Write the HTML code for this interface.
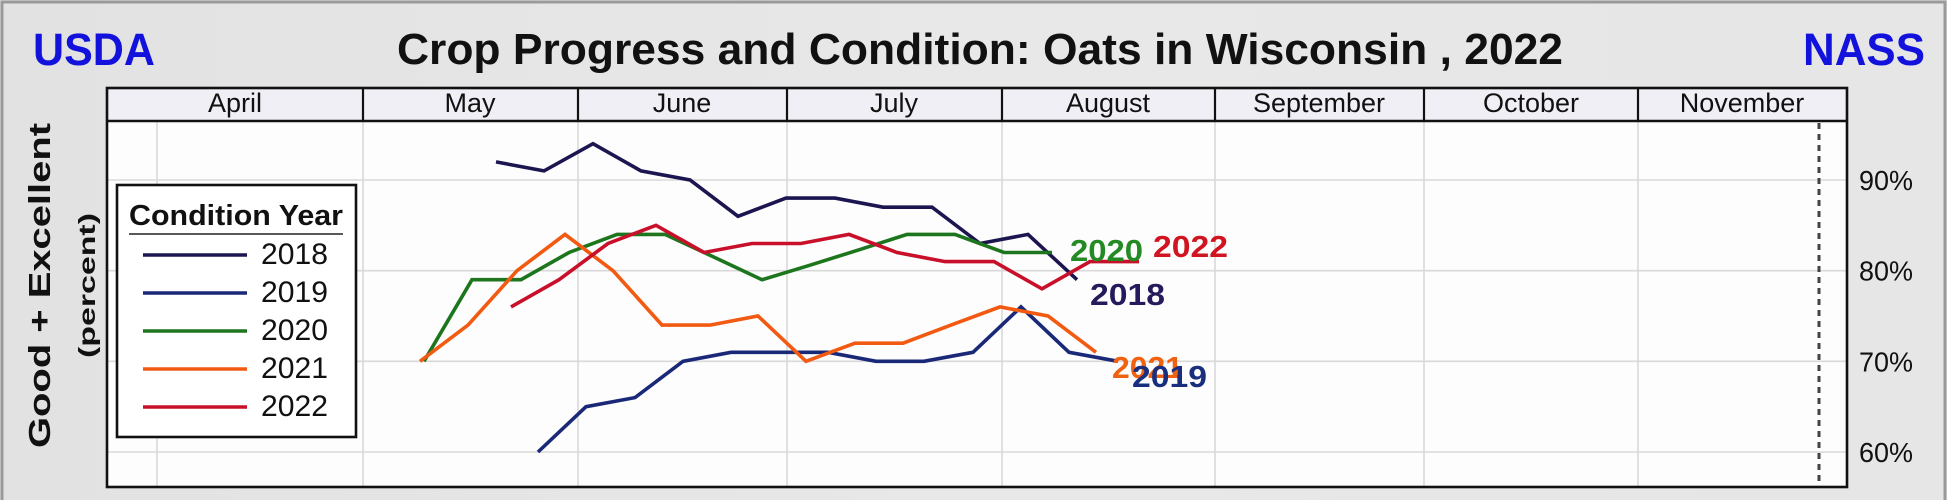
<!DOCTYPE html>
<html>
<head>
<meta charset="utf-8">
<style>
  html,body{margin:0;padding:0;background:#e5e5e5;}
  svg{display:block;}
  text{font-family:"Liberation Sans",Arial,sans-serif;}
</style>
</head>
<body>
<svg width="1947" height="500" viewBox="0 0 1947 500" xmlns="http://www.w3.org/2000/svg">
  <defs>
    <linearGradient id="bg" x1="0" y1="0" x2="1" y2="0">
      <stop offset="0" stop-color="#e2e2e2"/>
      <stop offset="0.5" stop-color="#e8e8e8"/>
      <stop offset="1" stop-color="#e6e6e6"/>
    </linearGradient>
  </defs>
  <rect x="0" y="0" width="1947" height="500" fill="url(#bg)"/>
  <!-- outer border -->
  <path d="M2,500 L2,2 L1945,2 L1945,500" fill="none" stroke="#9a9a9a" stroke-width="3"/>

  <!-- Top texts -->
  <text x="33" y="65" font-size="45" font-weight="bold" fill="#1212dc" textLength="122" lengthAdjust="spacingAndGlyphs">USDA</text>
  <text x="1803" y="65" font-size="45" font-weight="bold" fill="#1212dc" textLength="122" lengthAdjust="spacingAndGlyphs">NASS</text>
  <text x="980" y="64" font-size="44" font-weight="bold" fill="#111" text-anchor="middle" textLength="1166" lengthAdjust="spacingAndGlyphs">Crop Progress and Condition: Oats in Wisconsin , 2022</text>

  <!-- Y-axis titles -->
  <text transform="translate(50,285.5) rotate(-90)" font-size="31" font-weight="bold" fill="#111" text-anchor="middle" textLength="325" lengthAdjust="spacingAndGlyphs">Good + Excellent</text>
  <text transform="translate(95,285.5) rotate(-90)" font-size="23" font-weight="bold" fill="#111" text-anchor="middle" textLength="145" lengthAdjust="spacingAndGlyphs">(percent)</text>

  <!-- Header row -->
  <rect x="107" y="88" width="1740" height="33" fill="#efeff5"/>
  <!-- Plot area -->
  <rect x="107" y="121" width="1740" height="366" fill="#fdfdfd"/>

  <!-- grid -->
  <g stroke="#d9d9d9" stroke-width="1.6">
    <line x1="157" y1="121" x2="157" y2="487"/>
    <line x1="363" y1="121" x2="363" y2="487"/>
    <line x1="578" y1="121" x2="578" y2="487"/>
    <line x1="787" y1="121" x2="787" y2="487"/>
    <line x1="1002" y1="121" x2="1002" y2="487"/>
    <line x1="1215" y1="121" x2="1215" y2="487"/>
    <line x1="1424" y1="121" x2="1424" y2="487"/>
    <line x1="1638" y1="121" x2="1638" y2="487"/>
    <line x1="107" y1="180" x2="1847" y2="180"/>
    <line x1="107" y1="270.7" x2="1847" y2="270.7"/>
    <line x1="107" y1="361.3" x2="1847" y2="361.3"/>
    <line x1="107" y1="452" x2="1847" y2="452"/>
  </g>

  <!-- dashed end-of-season line -->
  <line x1="1819" y1="123" x2="1819" y2="487" stroke="#444" stroke-width="3" stroke-dasharray="6 5"/>

  <!-- header dividers and labels -->
  <g stroke="#111" stroke-width="2.2">
    <line x1="363" y1="88" x2="363" y2="121"/>
    <line x1="578" y1="88" x2="578" y2="121"/>
    <line x1="787" y1="88" x2="787" y2="121"/>
    <line x1="1002" y1="88" x2="1002" y2="121"/>
    <line x1="1215" y1="88" x2="1215" y2="121"/>
    <line x1="1424" y1="88" x2="1424" y2="121"/>
    <line x1="1638" y1="88" x2="1638" y2="121"/>
  </g>
  <g font-size="27" fill="#111" text-anchor="middle">
    <text x="235" y="112">April</text>
    <text x="470" y="112">May</text>
    <text x="682" y="112">June</text>
    <text x="894" y="112">July</text>
    <text x="1108" y="112">August</text>
    <text x="1319" y="112">September</text>
    <text x="1531" y="112">October</text>
    <text x="1742" y="112">November</text>
  </g>

  <!-- frame -->
  <rect x="107" y="88" width="1740" height="399" fill="none" stroke="#111" stroke-width="2.6"/>
  <line x1="107" y1="121" x2="1847" y2="121" stroke="#111" stroke-width="2.6"/>

  <!-- y tick labels -->
  <g font-size="28" fill="#111">
    <text x="1859" y="190" textLength="54" lengthAdjust="spacingAndGlyphs">90%</text>
    <text x="1859" y="280.7" textLength="54" lengthAdjust="spacingAndGlyphs">80%</text>
    <text x="1859" y="371.3" textLength="54" lengthAdjust="spacingAndGlyphs">70%</text>
    <text x="1859" y="462" textLength="54" lengthAdjust="spacingAndGlyphs">60%</text>
  </g>

  <!-- series -->
  <g fill="none" stroke-width="3.6" stroke-linejoin="miter" stroke-linecap="butt">
    <polyline stroke="#1c1650" points="496,161.9 544,170.9 593,143.7 641,170.9 690,180 738,216.3 786,198.1 835,198.1 883,207.2 932,207.2 980,243.5 1028,234.4 1077,279.7"/>
    <polyline stroke="#1a2878" points="538,452 586,406.7 635,397.6 683,361.3 731,352.3 780,352.3 828,352.3 876,361.3 924,361.3 973,352.3 1021,306.9 1069,352.3 1118,361.3"/>
    <polyline stroke="#1d761d" points="424,361.3 472,279.7 521,279.7 569,252.5 617,234.4 665,234.4 714,257.1 762,279.7 810,265.2 859,249.8 907,234.4 955,234.4 1004,252.5 1052,252.5"/>
    <polyline stroke="#f25a12" points="420,361.3 468,325.1 517,270.7 565,234.4 613,270.7 662,325.1 710,325.1 758,316 806,361.3 855,343.2 903,343.2 951,325.1 1000,306.9 1048,316 1096,352.3"/>
    <polyline stroke="#c8102a" points="511,306.9 559,279.7 608,243.5 656,225.3 704,252.5 752,243.5 801,243.5 849,234.4 897,252.5 945,261.6 994,261.6 1042,288.8 1090,261.6 1139,261.6"/>
  </g>

  <!-- series labels -->
  <g font-size="31" font-weight="bold">
    <text x="1070" y="261" fill="#248a24" textLength="73" lengthAdjust="spacingAndGlyphs">2020</text>
    <text x="1153" y="257" fill="#d01420" textLength="75" lengthAdjust="spacingAndGlyphs">2022</text>
    <text x="1090" y="305" fill="#261a5c" textLength="75" lengthAdjust="spacingAndGlyphs">2018</text>
    <text x="1112" y="378" fill="#f0620f" textLength="71" lengthAdjust="spacingAndGlyphs">2021</text>
    <text x="1132" y="387" fill="#1a2e7e" textLength="75" lengthAdjust="spacingAndGlyphs">2019</text>
  </g>

  <!-- legend -->
  <rect x="117" y="185" width="239" height="252" fill="#ffffff" stroke="#111" stroke-width="2.6"/>
  <text x="129" y="225" font-size="29" font-weight="bold" fill="#111" textLength="214" lengthAdjust="spacingAndGlyphs">Condition Year</text>
  <line x1="129" y1="234" x2="343" y2="234" stroke="#222" stroke-width="1.6"/>
  <g stroke-width="3.6">
    <line x1="143" y1="255" x2="247" y2="255" stroke="#1c1650"/>
    <line x1="143" y1="293" x2="247" y2="293" stroke="#1a2878"/>
    <line x1="143" y1="331" x2="247" y2="331" stroke="#1d761d"/>
    <line x1="143" y1="369" x2="247" y2="369" stroke="#f25a12"/>
    <line x1="143" y1="407" x2="247" y2="407" stroke="#c8102a"/>
  </g>
  <g font-size="30" fill="#111">
    <text x="261" y="264" textLength="67" lengthAdjust="spacingAndGlyphs">2018</text>
    <text x="261" y="302" textLength="67" lengthAdjust="spacingAndGlyphs">2019</text>
    <text x="261" y="340" textLength="67" lengthAdjust="spacingAndGlyphs">2020</text>
    <text x="261" y="378" textLength="67" lengthAdjust="spacingAndGlyphs">2021</text>
    <text x="261" y="416" textLength="67" lengthAdjust="spacingAndGlyphs">2022</text>
  </g>
</svg>
</body>
</html>
